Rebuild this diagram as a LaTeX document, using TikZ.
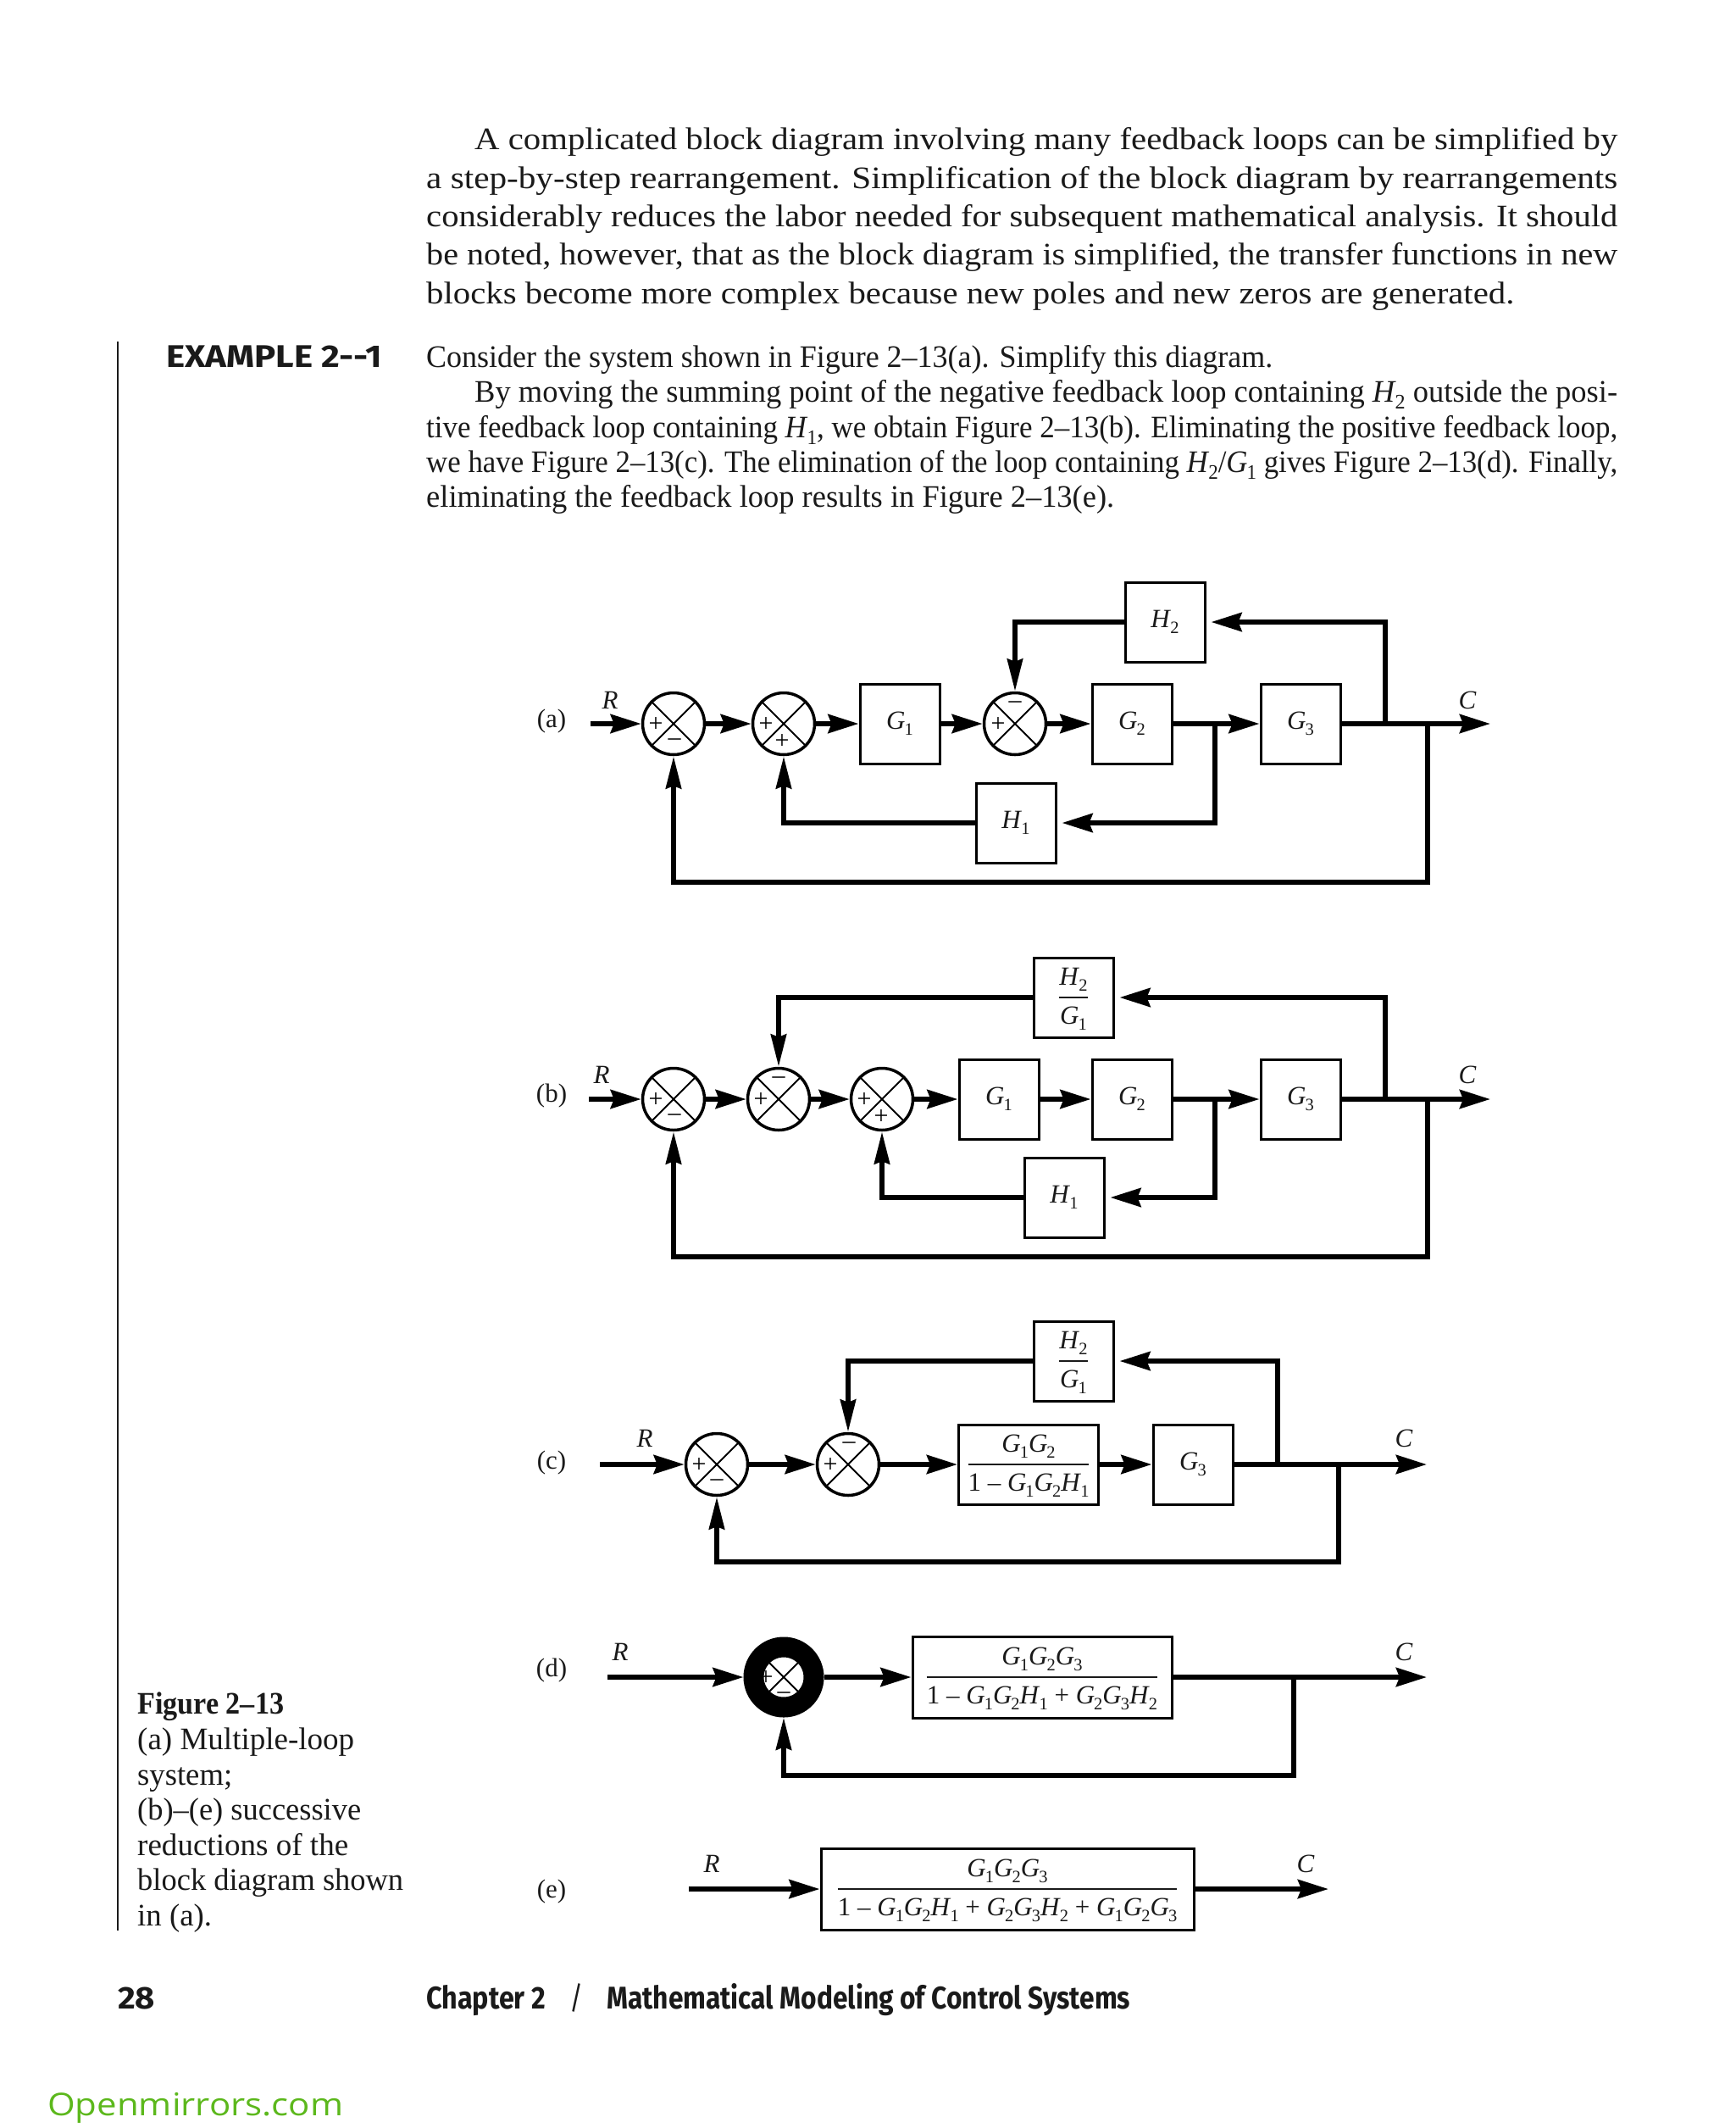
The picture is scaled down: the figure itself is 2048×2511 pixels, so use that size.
\documentclass[tikz,border=0pt]{standalone}
\usepackage{fontspec}
\usepackage{graphicx}
\setmainfont{Liberation Serif}
\newfontfamily\hdfont{Fira Sans}
\newfontfamily\wmfont{Open Sans}
\usetikzlibrary{arrows.meta,calc}
\definecolor{ink}{HTML}{1A1A1A}
\definecolor{wmgreen}{HTML}{5CB81C}
\newcommand\Gs[1]{\textit{G}\kern-.03em\raisebox{-.22em}{\scalebox{.66}{#1}}}
\newcommand\Hs[1]{\textit{H}\kern-.03em\raisebox{-.22em}{\scalebox{.66}{#1}}}
\newcommand\fr[2]{{\setlength\arrayrulewidth{2pt}\renewcommand\arraystretch{1.22}\begin{tabular}{@{}c@{}}#1\\\hline #2\end{tabular}}}
\newcommand\tl[5]{\node[txt] (#1) at (#2,#3) {\resizebox{#4pt}{\height}{#5}};}
\tikzset{
  x=1pt,y=-1pt,
  txt/.style={anchor=base west,inner sep=0pt,text=ink,font=\fontsize{37}{41}\selectfont},
  bod/.style={txt},
  blk/.style={draw=black,line width=3pt,fill=white,minimum width=94pt,minimum height=94pt,inner sep=0pt,font=\fontsize{31}{36}\selectfont,text=ink},
  wide/.style={blk,align=center},
  sumj/.style={circle,draw=black,line width=3.5pt,fill=white,minimum size=73pt,inner sep=0pt,
    path picture={\draw[line width=2pt] (path picture bounding box.north west)--(path picture bounding box.south east)
      (path picture bounding box.north east)--(path picture bounding box.south west);}},
  sgn/.style={inner sep=0pt,font=\fontsize{30}{30}\selectfont,text=black},
  lab/.style={inner sep=0pt,font=\fontsize{31}{36}\selectfont,text=ink},
  sig/.style={inner sep=0pt,font=\fontsize{31}{36}\selectfont\itshape,text=ink},
  wire/.style={line width=6pt,black},
  arr/.style={wire,-{Stealth[length=36pt,width=22pt,inset=4pt]}},
  varr/.style={wire,-{Stealth[length=38pt,width=18pt,inset=3pt]}},
  pt/.style={coordinate},
}
\begin{document}
\begin{tikzpicture}
\useasboundingbox[fill=white] (0,0) rectangle (2048,2511);
% body text
\tl{p1}{560}{176}{1349}{A complicated block diagram involving many feedback loops can be simplified by}
\tl{p2}{503}{222}{1406}{a step-by-step rearrangement. Simplification of the block diagram by rearrangements}
\tl{p3}{503}{267}{1406}{considerably reduces the labor needed for subsequent mathematical analysis. It should}
\tl{p4}{503}{312}{1406}{be noted, however, that as the block diagram is simplified, the transfer functions in new}
\tl{p5}{503}{358}{1284}{blocks become more complex because new poles and new zeros are generated.}
\tl{ex}{196}{433}{255}{\hdfont\bfseries EXAMPLE 2--1}
\tl{q1}{503}{433}{999}{Consider the system shown in Figure 2--13(a). Simplify this diagram.}
\tl{q2}{560}{474}{1349}{By moving the summing point of the negative feedback loop containing \Hs{2} outside the posi-}
\tl{q3}{503}{516}{1406}{tive feedback loop containing \Hs{1}, we obtain Figure 2--13(b). Eliminating the positive feedback loop,}
\tl{q4}{503}{557}{1406}{we have Figure 2--13(c). The elimination of the loop containing \Hs{2}/\Gs{1} gives Figure 2--13(d). Finally,}
\tl{q5}{503}{598}{812}{eliminating the feedback loop results in Figure 2--13(e).}
\coordinate (rt) at (139,403); \coordinate (rb) at (139,2278);
\draw[line width=2.5pt,ink] (rt)--(rb);
% side caption
\tl{c0}{162}{2022}{173}{\bfseries Figure 2--13}
\tl{c1}{162}{2064}{256}{(a) Multiple-loop}
\tl{c2}{162}{2106}{112}{system;}
\tl{c3}{162}{2147}{264}{(b)--(e) successive}
\tl{c4}{162}{2189}{249}{reductions of the}
\tl{c5}{162}{2230}{314}{block diagram shown}
\tl{c6}{162}{2272}{88}{in (a).}
% footer
\tl{f0}{139}{2370}{44}{\hdfont\bfseries 28}
\tl{f1}{503}{2370}{141}{\hdfont\bfseries Chapter 2}
\tl{f2}{672}{2370}{16}{\hdfont /}
\tl{f3}{716}{2370}{618}{\hdfont\bfseries Mathematical Modeling of Control Systems}
\node[txt,text=wmgreen] (wm) at (56,2496) {\resizebox{349pt}{\height}{\wmfont Openmirrors.com}};

% ---------- (a)
\node[lab] (la) at (651,851) {(a)};
\node[sig] (Ra) at (720,826) {R};
\node[sig] (Ca) at (1732,826) {C};
\node[sumj] (a1) at (795,854) {};
\node[sumj] (a2) at (925,854) {};
\node[blk] (aG1) at (1062,854) {\Gs{1}};
\node[sumj] (a3) at (1198,854) {};
\node[blk] (aG2) at (1336,854) {\Gs{2}};
\node[blk] (aG3) at (1535,854) {\Gs{3}};
\node[blk] (aH2) at (1375,734) {\Hs{2}};
\node[blk] (aH1) at (1199,971) {\Hs{1}};
\node[sgn] (a1p) at (774,855) {+}; \node[sgn] (a1m) at (796,876) {–};
\node[sgn] (a2p) at (904,855) {+}; \node[sgn] (a2q) at (923,875) {+};
\node[sgn] (a3p) at (1178,855) {+}; \node[sgn] (a3m) at (1198,832) {–};
\coordinate (ain) at (697,854); \coordinate (aout) at (1759,854);
\coordinate (ab1) at (1434,854); \coordinate (ab2) at (1635,854); \coordinate (ab3) at (1685,854);
\coordinate (afb) at (1685,1041);
\draw[arr] (ain)--(a1);
\draw[arr] (a1)--(a2);
\draw[arr] (a2)--(aG1);
\draw[arr] (aG1)--(a3);
\draw[arr] (a3)--(aG2);
\draw[arr] (aG2)--(aG3);
\draw[arr] (aG3)--(aout);
\draw[arr,shorten >=6pt] (ab2)|-(aH2);
\draw[varr] (aH2)-|(a3);
\draw[arr,shorten >=6pt] (ab1)|-(aH1);
\draw[varr] (aH1)-|(a2);
\draw[varr] (ab3)--(afb)-|(a1);

% ---------- (b)
\node[lab] (lb) at (651,1293) {(b)};
\node[sig] (Rb) at (710,1268) {R};
\node[sig] (Cb) at (1732,1268) {C};
\node[sumj] (b1) at (795,1297) {};
\node[sumj] (b2) at (919,1297) {};
\node[sumj] (b3) at (1041,1297) {};
\node[blk] (bG1) at (1179,1297) {\Gs{1}};
\node[blk] (bG2) at (1336,1297) {\Gs{2}};
\node[blk] (bG3) at (1535,1297) {\Gs{3}};
\node[wide] (bH2) at (1267,1177) {\fr{\Hs{2}}{\Gs{1}}};
\node[blk] (bH1) at (1256,1413) {\Hs{1}};
\node[sgn] (b1p) at (774,1298) {+}; \node[sgn] (b1m) at (796,1319) {–};
\node[sgn] (b2p) at (898,1298) {+}; \node[sgn] (b2m) at (919,1275) {–};
\node[sgn] (b3p) at (1020,1298) {+}; \node[sgn] (b3q) at (1040,1318) {+};
\coordinate (bin) at (695,1297); \coordinate (bout) at (1759,1297);
\coordinate (bb1) at (1434,1297); \coordinate (bb2) at (1635,1297); \coordinate (bb3) at (1685,1297);
\coordinate (bfb) at (1685,1483);
\draw[arr] (bin)--(b1);
\draw[arr] (b1)--(b2);
\draw[arr] (b2)--(b3);
\draw[arr] (b3)--(bG1);
\draw[arr] (bG1)--(bG2);
\draw[arr] (bG2)--(bG3);
\draw[arr] (bG3)--(bout);
\draw[arr,shorten >=6pt] (bb2)|-(bH2);
\draw[varr] (bH2)-|(b2);
\draw[arr,shorten >=6pt] (bb1)|-(bH1);
\draw[varr] (bH1)-|(b3);
\draw[varr] (bb3)--(bfb)-|(b1);

% ---------- (c)
\node[lab] (lc) at (651,1726) {(c)};
\node[sig] (Rc) at (761,1697) {R};
\node[sig] (Cc) at (1657,1697) {C};
\node[sumj] (c1) at (846,1728) {};
\node[sumj] (c2) at (1001,1728) {};
\node[wide,minimum width=165pt] (cG) at (1214,1728) {\fr{\Gs{1}\Gs{2}}{1 – \Gs{1}\Gs{2}\Hs{1}}};
\node[blk] (cG3) at (1408,1728) {\Gs{3}};
\node[wide] (cH2) at (1267,1606) {\fr{\Hs{2}}{\Gs{1}}};
\node[sgn] (c1p) at (825,1729) {+}; \node[sgn] (c1m) at (846,1750) {–};
\node[sgn] (c2p) at (980,1729) {+}; \node[sgn] (c2m) at (1002,1706) {–};
\coordinate (cin) at (708,1728); \coordinate (cout) at (1684,1728);
\coordinate (cb2) at (1508,1728); \coordinate (cb3) at (1580,1728);
\coordinate (cfb) at (1580,1843);
\draw[arr] (cin)--(c1);
\draw[arr] (c1)--(c2);
\draw[arr] (c2)--(cG);
\draw[arr] (cG)--(cG3);
\draw[arr] (cG3)--(cout);
\draw[arr,shorten >=6pt] (cb2)|-(cH2);
\draw[varr] (cH2)-|(c2);
\draw[varr] (cb3)--(cfb)-|(c1);

% ---------- (d)
\node[lab] (ld) at (651,1971) {(d)};
\node[sig] (Rd) at (732,1949) {R};
\node[sig] (Cd) at (1657,1949) {C};
\node[sumj,minimum size=71pt,line width=24pt] (d1) at (925,1979) {};
\node[wide,minimum width=306pt,minimum height=96pt] (dG) at (1230,1979) {\fr{\Gs{1}\Gs{2}\Gs{3}}{1 – \Gs{1}\Gs{2}\Hs{1} + \Gs{2}\Gs{3}\Hs{2}}};
\node[sgn] (d1p) at (904,1980) {+}; \node[sgn] (d1m) at (925,2001) {–};
\coordinate (din) at (717,1979); \coordinate (dout) at (1684,1979);
\coordinate (db3) at (1527,1979); \coordinate (dfb) at (1527,2095);
\draw[arr] (din)--(d1);
\draw[arr] (d1)--(dG);
\draw[arr] (dG)--(dout);
\draw[varr] (db3)--(dfb)-|(d1);

% ---------- (e)
\node[lab] (le) at (651,2232) {(e)};
\node[sig] (Re) at (840,2199) {R};
\node[sig] (Ce) at (1541,2199) {C};
\node[wide,minimum width=440pt,minimum height=96pt] (eG) at (1189,2229) {\fr{\Gs{1}\Gs{2}\Gs{3}}{1 – \Gs{1}\Gs{2}\Hs{1} + \Gs{2}\Gs{3}\Hs{2} + \Gs{1}\Gs{2}\Gs{3}}};
\coordinate (ein) at (813,2229); \coordinate (eout) at (1568,2229);
\draw[arr] (ein)--(eG);
\draw[arr] (eG)--(eout);
\end{tikzpicture}
\end{document}
